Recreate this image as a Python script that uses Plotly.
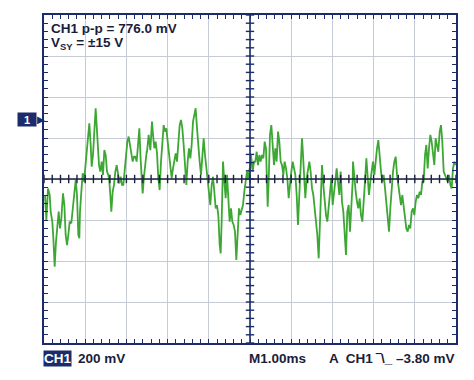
import numpy as np
import plotly.graph_objects as go

time_ms = [
    0.024, 0.057, 0.097, 0.138, 0.162, 0.202, 0.227, 0.259, 0.291, 0.324, 0.356, 0.388, 0.421, 0.461,
    0.494, 0.526, 0.558, 0.591, 0.623, 0.663, 0.704, 0.744, 0.769, 0.801, 0.833, 0.858, 0.874, 0.906,
    0.939, 0.971, 1.003, 1.036, 1.068, 1.100, 1.133, 1.157, 1.189, 1.222, 1.254, 1.278, 1.303, 1.335,
    1.367, 1.400, 1.432, 1.464, 1.497, 1.529, 1.561, 1.586, 1.610, 1.634, 1.667, 1.699, 1.731, 1.764,
    1.796, 1.828, 1.861, 1.893, 1.926, 1.958, 1.990, 2.023, 2.055, 2.087, 2.120, 2.152, 2.184, 2.217,
    2.249, 2.282, 2.314, 2.346, 2.379, 2.395, 2.427, 2.460, 2.492,
    2.500, 2.540, 2.581, 2.621, 2.646, 2.678, 2.710, 2.743, 2.775, 2.807, 2.840, 2.872, 2.905, 2.937,
    2.969, 3.002, 3.034, 3.066, 3.099, 3.131, 3.163, 3.196, 3.228, 3.261, 3.293, 3.325, 3.358, 3.390,
    3.422, 3.455, 3.487, 3.519, 3.552, 3.584, 3.617, 3.649, 3.681, 3.714, 3.746, 3.778, 3.811, 3.843,
    3.875, 3.908, 3.940, 3.972, 4.005, 4.037, 4.070, 4.102, 4.134, 4.167, 4.199, 4.231, 4.264, 4.288,
    4.312, 4.345, 4.377, 4.409, 4.442, 4.474, 4.506, 4.539, 4.571, 4.604, 4.636, 4.668, 4.701, 4.733,
    4.765, 4.798, 4.830, 4.862, 4.895, 4.927, 4.960, 4.992,
    5.000, 5.024, 5.065, 5.097, 5.129, 5.162, 5.194, 5.227, 5.259, 5.291, 5.324, 5.356, 5.388, 5.405,
    5.429, 5.453, 5.485, 5.518, 5.550, 5.583, 5.615, 5.647, 5.680, 5.712, 5.744, 5.777, 5.809, 5.841,
    5.874, 5.906, 5.939, 5.971, 6.003, 6.036, 6.068, 6.100, 6.133, 6.165, 6.197, 6.230, 6.262, 6.278,
    6.311, 6.343, 6.375, 6.408, 6.440, 6.472, 6.505, 6.537, 6.570, 6.602, 6.634, 6.667, 6.691, 6.715,
    6.748, 6.780, 6.812, 6.845, 6.877, 6.909, 6.942, 6.974, 7.006, 7.039, 7.071, 7.104, 7.136, 7.168,
    7.201, 7.233, 7.265, 7.298, 7.330, 7.362, 7.395, 7.427, 7.460, 7.492,
    7.500, 7.532, 7.565, 7.597, 7.629, 7.662, 7.694, 7.727, 7.759, 7.791, 7.824, 7.856, 7.888, 7.921,
    7.953, 7.985, 8.018, 8.050, 8.083, 8.115, 8.147, 8.180, 8.212, 8.244, 8.277, 8.309, 8.341, 8.374,
    8.406, 8.439, 8.471, 8.503, 8.536, 8.568, 8.600, 8.633, 8.665, 8.697, 8.730, 8.762, 8.794, 8.827,
    8.859, 8.891, 8.924, 8.956, 8.989, 9.021, 9.053, 9.086, 9.118, 9.150, 9.183, 9.215, 9.248, 9.280,
    9.312, 9.345, 9.377, 9.409, 9.442, 9.474, 9.506, 9.539, 9.571, 9.604, 9.636, 9.668, 9.701, 9.733,
    9.765, 9.798, 9.830, 9.863, 9.895, 9.927, 9.960, 9.992,
]
ch1_mv = [
    -78, -200, -46, -78, -159, -208, -289, -428, -306, -208, -159, -241, -192, -70,
    -127, -273, -322, -273, -208, -216, -143, -78, -5, -78, -273, -289, -159, -62,
    28, -13, 68, 133, 215, 272, 166, 60, 117, 231, 345, 263, 166, 68,
    36, 85, 20, 141, 117, 36, 20, -13, -78, -159, -62, -29, 36, 68,
    28, -21, 11, -29, -29, 52, 101, 182, 207, 158, 117, 85, 109, 109,
    85, 182, 247, 93, -13, -70, 11, 85, 133,
    133, 215, 141, 280, 215, 150, 182, 125, 3, -54, 85, 198, 263, 231,
    247, 182, 117, 52, 3, 52, 101, 125, 85, 182, 263, 288, 247, 166,
    36, -29, 85, 150, 101, 166, 280, 320, 345, 247, 150, 85, 20, 133,
    198, 117, 52, -13, -78, -127, -29, 11, -62, -143, -127, -176, -322, -363,
    -208, 85, -13, -94, 20, -127, -208, -143, -208, -224, -257, -395, -241, -143,
    -176, -143, -127, -62, -13, 36, 3, 52,
    36, 117, 36, 85, 85, 133, 68, 117, 85, 117, 101, 182, 150, 3,
    -135, -13, 215, 263, 166, 68, 150, 85, 231, 182, 85, 68, 20, 85,
    52, 3, -94, -13, 36, 85, 52, 20, -78, -224, -78, 85, 198, 150,
    20, -94, 3, 52, 85, 36, -46, -78, -143, -208, -273, -387, -273, -78,
    68, -29, -111, -176, -208, -127, -78, 3, -127, -62, 20, 52, -13, -78,
    36, -111, -159, -273, -371, -159, -127, -257, -143, -13,
    85, 3, -62, -111, -143, -94, -176, -208, -78, -13, 101, 3, -78, -13,
    36, 85, 20, 101, 150, 190, 101, 36, -13, 20, -46, -111, -176, -257,
    -143, -29, 36, 85, 109, 20, -29, -78, -127, -78, -143, -208, -241, -257,
    -224, -241, -159, -143, -176, -111, -78, -94, -62, -78, -13, -13, 117, 166,
    52, 150, 215, 182, 117, 68, 198, 166, 133, 231, 263, 182, 36, 20,
    3, -13, 20, -29, -46, 52, 85, 68,
]

# ---- screen settings
x_divs = 10          # horizontal divisions (1 ms/div)
y_divs = 8           # vertical divisions (200 mV/div)
ms_per_div = 1.0
mv_per_div = 200.0
ch1_marker_mv = 288  # channel 1 marker level on the left edge

NAVY = "#1c2b6b"
DARK = "#1a2040"
GRID = "#c6cbd6"
GREEN = "#3ca833"
TXT = "#1a1d3a"

xmax = x_divs * ms_per_div
ymax = y_divs / 2 * mv_per_div

fig = go.Figure()

# the trace
fig.add_trace(go.Scatter(
    x=time_ms, y=ch1_mv, mode="lines",
    line=dict(color=GREEN, width=1.8), hoverinfo="skip", showlegend=False,
))

# centre cross with graduation ticks
xt = np.arange(0, xmax + 1e-9, ms_per_div / 5)
fig.add_trace(go.Scatter(
    x=xt, y=np.zeros_like(xt), mode="lines+markers",
    line=dict(color=DARK, width=1.6),
    marker=dict(symbol="line-ns-open", size=6, line=dict(color=DARK, width=1.4)),
    hoverinfo="skip", showlegend=False, cliponaxis=False,
))
yt = np.arange(-ymax, ymax + 1e-9, mv_per_div / 5)
fig.add_trace(go.Scatter(
    x=np.full_like(yt, xmax / 2), y=yt, mode="lines+markers",
    line=dict(color=NAVY, width=1.6),
    marker=dict(symbol="line-ew-open", size=6, line=dict(color=NAVY, width=1.4)),
    hoverinfo="skip", showlegend=False, cliponaxis=False,
))

axis_common = dict(
    showgrid=True, gridcolor=GRID, gridwidth=1,
    zeroline=False, showticklabels=False,
    showline=True, linecolor=NAVY, linewidth=2, mirror="ticks",
    ticks="inside", ticklen=4, tickwidth=1.2, tickcolor=NAVY,
)
fig.update_xaxes(range=[0, xmax], dtick=ms_per_div, tick0=0,
                 minor=dict(ticks="inside", dtick=ms_per_div / 5, ticklen=4,
                            tickwidth=1.2, tickcolor=NAVY, showgrid=False),
                 **axis_common)
fig.update_yaxes(range=[-ymax, ymax], dtick=mv_per_div, tick0=0,
                 minor=dict(ticks="inside", dtick=mv_per_div / 5, ticklen=4,
                            tickwidth=1.2, tickcolor=NAVY, showgrid=False),
                 **axis_common)

F = "Arial, Liberation Sans, sans-serif"
ann = []
ann.append(dict(xref="paper", yref="paper", x=0.012, y=0.960, xanchor="left", yanchor="middle",
                text="<b>CH1 p-p = 776.0 mV</b>", showarrow=False, height=14,
                font=dict(family=F, size=13.5, color=TXT)))
ann.append(dict(xref="paper", yref="paper", x=0.012, y=0.912, xanchor="left", yanchor="middle",
                text="<b>V<sub>SY</sub> = ±15 V</b>", showarrow=False, height=15,
                font=dict(family=F, size=13.5, color=TXT)))
# bottom status line
ann.append(dict(xref="paper", yref="paper", x=-0.002, y=-0.047, xanchor="left", yanchor="middle",
                text="<b>CH1</b>", showarrow=False, bgcolor=NAVY, borderpad=0,
                font=dict(family=F, size=13.5, color="white")))
ann.append(dict(xref="paper", yref="paper", x=0.078, y=-0.047, xanchor="left", yanchor="middle",
                text="<b>200 mV</b>", showarrow=False,
                font=dict(family=F, size=13.5, color=TXT)))
ann.append(dict(xref="paper", yref="paper", x=0.493, y=-0.047, xanchor="left", yanchor="middle",
                text="<b>M1.00ms</b>", showarrow=False,
                font=dict(family=F, size=13.5, color=TXT)))
ann.append(dict(xref="paper", yref="paper", x=1.003, y=-0.047, xanchor="right", yanchor="middle",
                text="<b>A  CH1 ‾\\_ –3.80 mV</b>", showarrow=False,
                font=dict(family=F, size=13.5, color=TXT)))
# channel 1 marker on the left
ann.append(dict(xref="paper", yref="y", x=-0.017, y=ch1_marker_mv, xanchor="right", yanchor="middle",
                text="<b>1</b>", showarrow=False, bgcolor=NAVY, borderpad=0, width=18, height=13,
                font=dict(family=F, size=11, color="white")))
ann.append(dict(xref="paper", yref="y", x=-0.0225, y=ch1_marker_mv, xanchor="left", yanchor="middle",
                text="▶", showarrow=False,
                font=dict(family="DejaVu Sans", size=10, color=NAVY)))

fig.update_layout(
    width=474, height=380,
    margin=dict(l=44, r=18, t=15, b=37),
    paper_bgcolor="white", plot_bgcolor="white",
    annotations=ann, showlegend=False,
)

fig.write_html("out.html", config={"displayModeBar": False},
               post_script="document.body.style.margin='0';")
